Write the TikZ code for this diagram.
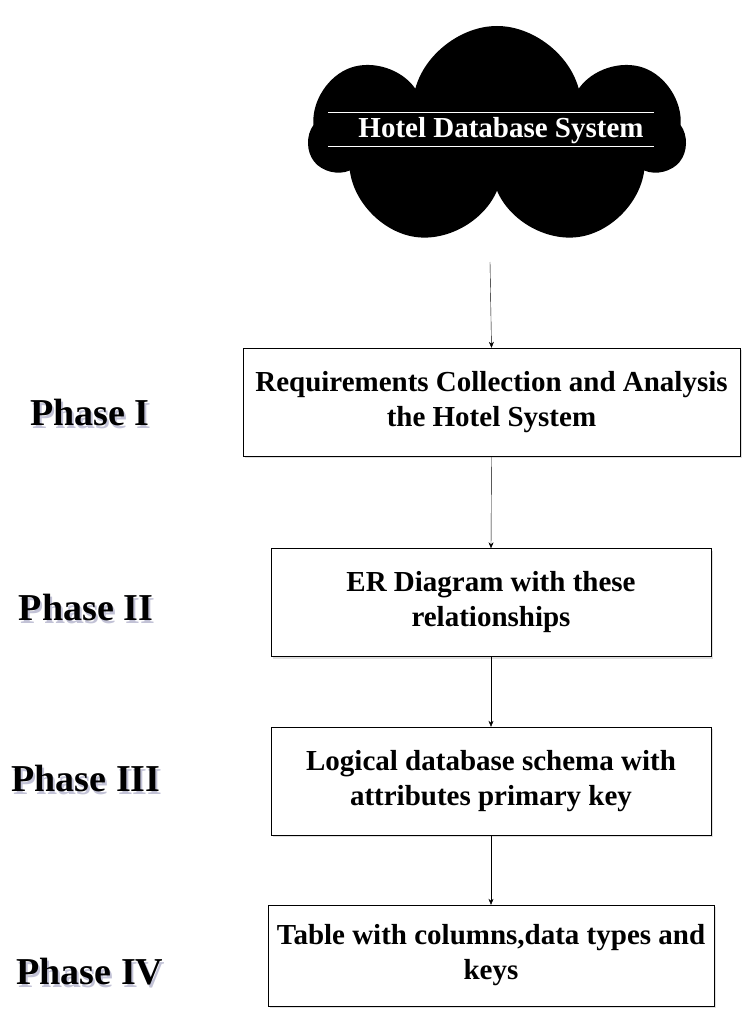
\documentclass[tikz,border=0pt]{standalone}
\usepackage{fontspec}
\setmainfont{Liberation Serif}
\usetikzlibrary{shapes.symbols,positioning,shadows,arrows.meta}
\tikzset{
step/.style={draw,fill=white,minimum width=#1,minimum height=108pt,align=center,
  font=\bfseries\fontsize{29}{35}\selectfont,drop shadow={opacity=0.25}},
phase/.style={font=\bfseries\fontsize{38}{44}\selectfont},
link/.style={-{Stealth[length=6pt,width=5pt]}}
}
\begin{document}
\begin{tikzpicture}[x=1pt,y=-1pt]
\useasboundingbox (0,0) rectangle (750,1024);
\node (cloud) [cloud,cloud puffs=7,aspect=1.9,fill=black,minimum width=375pt,minimum height=222pt,inner sep=0pt] at (497,137) {};
\fill[black] (328,113) rectangle (654,147);
\draw[white,line width=1pt] (328,113) -- (654,113);
\draw[white,line width=1pt] (328,147) -- (654,147);
\node (title) [text=white,font=\bfseries\fontsize{29}{32}\selectfont] at (501,131) {Hotel Database System};
\coordinate (top) at (490,262);
\node (req) [step=497pt] at (491.5,402) {Requirements Collection and Analysis\\the Hotel System};
\node (er) [step=440pt] at (491,602.5) {ER Diagram with these\\relationships};
\node (log) [step=440pt] at (491,781) {Logical database schema with\\attributes primary key};
\node (tab) [step=446pt,minimum height=101pt] at (491,955.5) {Table with columns,data types and\\keys};
\draw[link] (top) -- (req.north);
\draw[link] (req.south) -- (er.north);
\draw[link] (er.south) -- (log.north);
\draw[link] (log.south) -- (tab.north);
% phase labels with soft shadow
\foreach \n/\x/\y/\t in {p1/90/412/I,p2/86/607/II,p3/86/778/III,p4/90/972/IV}{
  \node[phase,text=blue!20!gray!40] at (\x+2,\y+3) {Phase \t};
  \node (\n) [phase] at (\x,\y) {Phase \t};
}
\end{tikzpicture}
\end{document}
